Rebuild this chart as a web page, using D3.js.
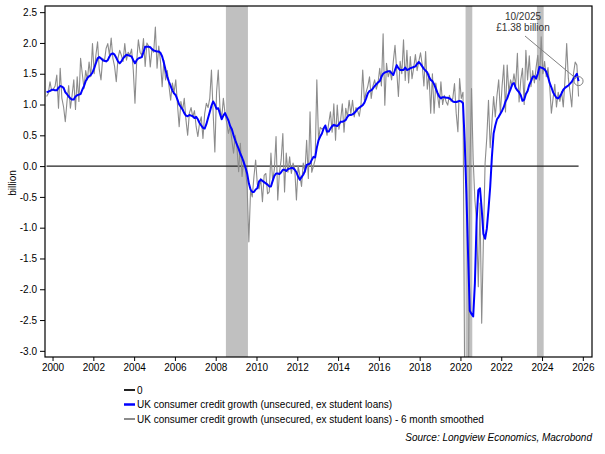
<!DOCTYPE html>
<html>
<head>
<meta charset="utf-8">
<script src="https://cdn.jsdelivr.net/npm/d3@7"></script>
<style>
    body { margin: 0; background: #fff; }
    svg text { font-family: "Liberation Sans", Arial, sans-serif; font-size: 10px; fill: #000; }
</style>
</head>
<body>
<svg width="605" height="454"></svg>
<script>
// Monthly data, first month is Sep 1999, last month is Oct 2025
var startYear = 1999;
var startMonth = 9;

// 6 month smoothed series (drawn in blue)
var smoothed = [
    1.20, 1.21, 1.22, 1.24,
    1.24, 1.23, 1.23, 1.27, 1.30, 1.29, 1.27, 1.20, 1.17, 1.13, 1.10, 1.08,
    1.08, 1.13, 1.15, 1.16, 1.17, 1.24, 1.30, 1.38, 1.43, 1.46, 1.48, 1.52,
    1.59, 1.67, 1.75, 1.77, 1.75, 1.72, 1.71, 1.70, 1.72, 1.78, 1.82, 1.83,
    1.81, 1.76, 1.70, 1.67, 1.70, 1.75, 1.78, 1.81, 1.80, 1.79, 1.78, 1.72,
    1.67, 1.72, 1.75, 1.76, 1.77, 1.85, 1.94, 1.94, 1.94, 1.93, 1.90, 1.88,
    1.87, 1.86, 1.86, 1.84, 1.78, 1.68, 1.56, 1.45, 1.37, 1.30, 1.23, 1.18,
    1.15, 1.08, 1.00, 0.96, 0.92, 0.86, 0.82, 0.81, 0.83, 0.82, 0.81, 0.78,
    0.80, 0.76, 0.70, 0.66, 0.62, 0.61, 0.68, 0.78, 0.88, 0.98, 1.05, 1.00,
    0.93, 0.94, 0.85, 0.76, 0.82, 0.86, 0.80, 0.74, 0.65, 0.60, 0.50, 0.42,
    0.35, 0.28, 0.20, 0.14, 0.06, -0.02, -0.12, -0.28, -0.38, -0.42, -0.42, -0.38,
    -0.36, -0.25, -0.22, -0.24, -0.26, -0.28, -0.30, -0.33, -0.33, -0.24, -0.16, -0.12,
    -0.12, -0.13, -0.10, -0.06, -0.06, -0.08, -0.05, -0.04, -0.03, -0.03, -0.06, -0.10,
    -0.17, -0.22, -0.18, -0.14, -0.08, 0.02, 0.03, 0.04, 0.10, 0.15, 0.14, 0.30,
    0.42, 0.48, 0.53, 0.61, 0.66, 0.56, 0.56, 0.61, 0.65, 0.67, 0.66, 0.65,
    0.68, 0.72, 0.72, 0.73, 0.75, 0.80, 0.83, 0.83, 0.84, 0.86, 0.89, 0.93,
    0.95, 0.97, 0.99, 1.03, 1.10, 1.18, 1.22, 1.23, 1.26, 1.30, 1.33, 1.36,
    1.38, 1.45, 1.50, 1.52, 1.53, 1.54, 1.54, 1.51, 1.48, 1.56, 1.64, 1.59,
    1.56, 1.56, 1.56, 1.60, 1.56, 1.57, 1.59, 1.60, 1.61, 1.62, 1.66, 1.69,
    1.66, 1.62, 1.58, 1.55, 1.52, 1.45, 1.40, 1.38, 1.33, 1.26, 1.19, 1.13,
    1.10, 1.12, 1.12, 1.11, 1.11, 1.10, 1.08, 1.05, 1.04, 1.04, 1.05, 1.06,
    1.05, 1.02, 0.40, -0.45, -1.45, -2.35, -2.40, -2.44, -1.90, -0.90, -0.39, -0.36,
    -0.70, -1.10, -1.18, -1.02, -0.70, -0.34, 0.15, 0.53, 0.66, 0.76, 0.80, 0.85,
    0.90, 0.96, 1.05, 1.10, 1.18, 1.25, 1.33, 1.35, 1.27, 1.23, 1.20, 1.15,
    1.06, 1.08, 1.17, 1.22, 1.32, 1.38, 1.45, 1.46, 1.42, 1.50, 1.61, 1.60,
    1.59, 1.57, 1.53, 1.45, 1.35, 1.28, 1.20, 1.15, 1.11, 1.10, 1.13, 1.18,
    1.24, 1.27, 1.29, 1.31, 1.34, 1.37, 1.42, 1.46, 1.50, 1.38
];

// Monthly series (drawn in grey)
var monthly = [
    1.13, 1.18, 1.37, 1.22,
    1.25, 1.30, 1.48, 0.94, 1.59, 1.10, 0.96, 0.72, 1.05, 1.31, 0.94, 1.15,
    1.40, 0.92, 1.45, 1.05, 1.75, 1.50, 1.26, 1.55, 1.40, 1.69, 1.45, 1.99,
    1.50, 1.80, 2.02, 1.57, 1.40, 1.75, 1.70, 1.91, 1.99, 1.80, 2.08, 1.75,
    1.62, 1.37, 1.75, 1.88, 1.80, 1.70, 1.99, 1.72, 1.85, 1.80, 1.90, 1.56,
    1.02, 1.70, 2.05, 1.85, 1.80, 2.07, 1.62, 2.00, 1.95, 1.61, 1.90, 1.85,
    2.26, 1.59, 1.95, 1.70, 1.29, 1.72, 1.40, 1.55, 1.30, 1.07, 1.35, 1.20,
    1.40, 1.00, 0.64, 1.05, 0.90, 1.10, 0.75, 0.50, 0.86, 0.95, 0.80, 0.90,
    0.64, 0.48, 0.70, 0.80, 0.45, 0.85, 1.02, 0.95, 1.10, 1.56, 0.86, 0.23,
    1.20, 1.56, 0.95, 0.77, 1.10, 0.85, 0.70, 0.53, 0.65, 0.42, 0.21, 0.50,
    0.30, -0.09, 0.37, -0.17, 0.10, -0.05, -0.34, -1.23, -0.40, -0.50, -0.17, 0.10,
    -0.30, -0.37, -0.20, -0.58, -0.15, -0.12, -0.45, -0.42, 0.21, -0.25, -0.05, 0.48,
    -0.55, -0.10, 0.10, 0.53, -0.42, 0.21, -0.10, 0.15, -0.12, 0.05, -0.05, -0.55,
    0.00, -0.15, -0.33, 0.05, -0.10, 0.42, -0.20, 0.88, -0.10, 0.00, 0.10, 1.40,
    0.42, 0.63, 0.60, 0.62, 0.65, 0.50, 0.70, 0.88, 0.55, 1.01, 0.42, 0.99,
    0.60, 0.75, 1.01, 0.55, 0.94, 0.80, 1.07, 0.85, 1.07, 0.80, 0.95, 0.90,
    0.81, 1.00, 1.56, 1.07, 1.20, 1.30, 1.45, 1.10, 1.30, 1.40, 1.25, 1.35,
    1.59, 1.30, 2.15, 0.99, 1.67, 1.45, 1.55, 1.40, 1.70, 1.96, 1.55, 1.13,
    1.70, 1.50, 2.05, 1.39, 1.88, 1.35, 1.78, 1.42, 1.60, 1.81, 1.55, 1.70,
    1.84, 1.65, 1.30, 1.86, 1.25, 1.50, 0.86, 1.50, 0.86, 1.35, 1.15, 0.95,
    1.37, 1.00, 1.15, 1.05, 0.99, 1.15, 1.05, 1.10, 1.34, 0.86, 0.56, 1.42,
    1.10, 1.20, -3.60, -7.40, -4.60, -0.10, 1.26, 0.10, -0.55, -0.90, -1.96, -0.60,
    -2.55, -1.20, 0.05, 0.46, 1.07, 0.30, 0.70, 1.13, 0.80, 1.15, 1.40, 0.85,
    1.30, 1.64, 0.88, 1.64, 1.20, 1.40, 1.30, 1.50, 1.30, 1.83, 1.04, 1.40,
    1.59, 1.00, 1.88, 1.40, 1.79, 1.29, 1.55, 1.35, 1.60, 1.80, 1.40, 2.10,
    1.50, 1.70, 1.45, 1.60, 1.30, 0.86, 1.10, 1.33, 0.96, 1.20, 1.05, 1.21,
    0.96, 1.40, 1.99, 1.42, 1.20, 0.96, 1.50, 1.69, 1.64, 1.13
];

// Shaded periods (decimal years)
var bandStart = [2008.5, 2020.25, 2023.75];
var bandEnd = [2009.58, 2020.58, 2024.08];

var yTicks = [-3.0, -2.5, -2.0, -1.5, -1.0, -0.5, 0.0, 0.5, 1.0, 1.5, 2.0, 2.5];
var xTicks = [2000, 2002, 2004, 2006, 2008, 2010, 2012, 2014, 2016, 2018, 2020, 2022, 2024, 2026];

var legendLabels = [
    '0',
    'UK consumer credit growth (unsecured, ex student loans)',
    'UK consumer credit growth (unsecured, ex student loans) - 6 month smoothed'
];
var legendColors = ['#222222', '#0000ff', '#8c8c8c'];

var annotationLines = ['10/2025', '\u00a31.38 billion'];
var sourceText = 'Source: Longview Economics, Macrobond';

// Build rows with a decimal year for each month (mid month)
var rows = smoothed.map(function(v, i) {
    return {
        t: startYear + (startMonth - 1 + i + 0.5) / 12,
        smooth: v,
        raw: monthly[i]
    };
});

var svg = d3.select('svg');

// Plot box
var plot = {l: 45, r: 592, t: 6, b: 357};

var x = d3.scaleLinear()
    .domain([1999.63, 2026.45])
    .range([plot.l, plot.r]);

var y = d3.scaleLinear()
    .domain([-3.1, 2.6])
    .range([plot.b, plot.t]);

svg.append('clipPath')
    .attr('id', 'plotClip')
    .append('rect')
    .attr('x', plot.l)
    .attr('y', plot.t)
    .attr('width', plot.r - plot.l)
    .attr('height', plot.b - plot.t);

// Shaded bands
svg.append('g')
    .selectAll('rect')
    .data(bandStart)
    .enter()
    .append('rect')
    .attr('x', d => x(d))
    .attr('y', plot.t)
    .attr('width', (d, i) => x(bandEnd[i]) - x(d))
    .attr('height', plot.b - plot.t)
    .attr('fill', '#c0c0c0');

var lines = svg.append('g').attr('clip-path', 'url(#plotClip)');

// zero series
lines.append('path')
    .datum(rows)
    .attr('fill', 'none')
    .attr('stroke', legendColors[0])
    .attr('stroke-width', 1.2)
    .attr('d', d3.line().x(d => x(d.t)).y(() => y(0)));

lines.append('path')
    .datum(rows)
    .attr('fill', 'none')
    .attr('stroke', legendColors[2])
    .attr('stroke-width', 1.1)
    .attr('stroke-linejoin', 'round')
    .attr('d', d3.line().x(d => x(d.t)).y(d => y(d.raw)));

lines.append('path')
    .datum(rows)
    .attr('fill', 'none')
    .attr('stroke', legendColors[1])
    .attr('stroke-width', 2)
    .attr('stroke-linejoin', 'round')
    .attr('d', d3.line().x(d => x(d.t)).y(d => y(d.smooth)));

// Frame
svg.append('rect')
    .attr('x', plot.l)
    .attr('y', plot.t)
    .attr('width', plot.r - plot.l)
    .attr('height', plot.b - plot.t)
    .attr('fill', 'none')
    .attr('stroke', '#000')
    .attr('stroke-width', 1.2);

// Axes
var yAxis = d3.axisLeft(y)
    .tickValues(yTicks)
    .tickFormat(d => d.toFixed(1))
    .tickSize(5)
    .tickSizeOuter(0);

svg.append('g')
    .attr('transform', 'translate(' + plot.l + ',0)')
    .call(yAxis)
    .call(g => g.select('.domain').remove());

var xAxis = d3.axisBottom(x)
    .tickValues(xTicks)
    .tickFormat(d => d)
    .tickSize(4)
    .tickSizeOuter(0);

svg.append('g')
    .attr('transform', 'translate(0,' + plot.b + ')')
    .call(xAxis)
    .call(g => g.select('.domain').remove());

svg.selectAll('.tick line').attr('stroke', '#000');
svg.selectAll('.tick text').attr('fill', '#000').style('font-size', '10px');

// Y axis title
svg.append('text')
    .attr('transform', 'translate(16,183) rotate(-90)')
    .attr('text-anchor', 'middle')
    .text('billion');

// Annotation of the last value
var last = rows[rows.length - 1];
var cx = x(last.t), cy = y(last.smooth);
var annX = 523;

svg.append('line')
    .attr('x1', annX + 2)
    .attr('y1', 36)
    .attr('x2', cx - 3)
    .attr('y2', cy - 3)
    .attr('stroke', '#808080')
    .attr('stroke-width', 1);

svg.append('circle')
    .attr('cx', cx)
    .attr('cy', cy)
    .attr('r', 4.5)
    .attr('fill', 'none')
    .attr('stroke', '#808080')
    .attr('stroke-width', 1);

svg.selectAll('.ann')
    .data(annotationLines)
    .enter()
    .append('text')
    .attr('class', 'ann')
    .attr('x', annX)
    .attr('y', (d, i) => 20 + i * 11)
    .attr('text-anchor', 'middle')
    .style('fill', '#333')
    .text(d => d);

// Legend
var legend = svg.append('g')
    .selectAll('g')
    .data(legendLabels)
    .enter()
    .append('g')
    .attr('transform', (d, i) => 'translate(124,' + (390 + i * 14.5) + ')');

legend.append('line')
    .attr('x1', 0)
    .attr('x2', 11)
    .attr('stroke', (d, i) => legendColors[i])
    .attr('stroke-width', (d, i) => i === 1 ? 2.5 : 2);

legend.append('text')
    .attr('x', 13)
    .attr('y', 3.5)
    .text(d => d);

// Source
svg.append('text')
    .attr('x', plot.r)
    .attr('y', 441)
    .attr('text-anchor', 'end')
    .style('font-style', 'italic')
    .text(sourceText);
</script>
</body>
</html>
